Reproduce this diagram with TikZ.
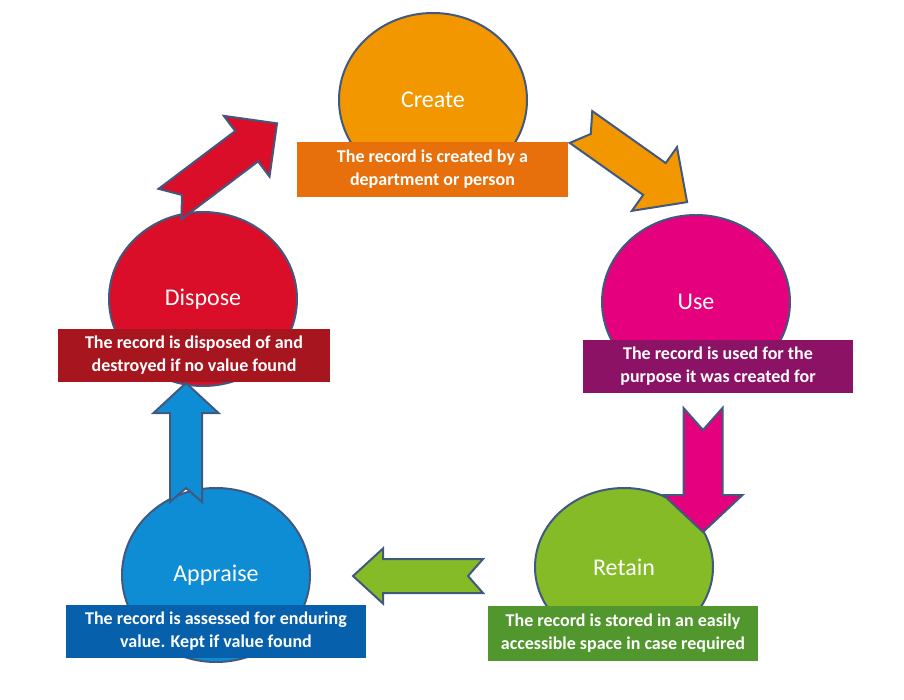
\documentclass[tikz,border=0pt]{standalone}
\usepackage{fontspec}
\setmainfont{Carlito}
\usetikzlibrary{shapes.geometric}
\definecolor{outl}{HTML}{41587F}
\definecolor{createC}{HTML}{F39700}
\definecolor{createB}{HTML}{E8700C}
\definecolor{useC}{HTML}{E5007D}
\definecolor{useB}{HTML}{8C1266}
\definecolor{retainC}{HTML}{84BB26}
\definecolor{retainB}{HTML}{52962E}
\definecolor{apprC}{HTML}{0E8DD5}
\definecolor{apprB}{HTML}{0760AB}
\definecolor{dispC}{HTML}{DB0E29}
\definecolor{dispB}{HTML}{A7161F}
\tikzset{
  stage/.style={ellipse, draw=outl, line width=2pt, inner sep=0pt,
    minimum width=188pt, minimum height=174pt, text=white,
    font=\fontsize{24}{28}\selectfont},
  infobox/.style={rectangle, inner sep=0pt, text=white, align=center,
    font=\fontsize{18}{23}\selectfont\bfseries},
  arrowline/.style={draw=outl, line width=2pt, line join=miter}
}
% #1 colour, #2 tail point, #3 angle, #4 length, #5 half shaft, #6 half head, #7 head length, #8 notch
\newcommand\blockarrow[8]{%
  \begin{scope}[shift={#2},rotate=#3]
    \filldraw[arrowline, fill=#1] (0,#5) -- ({#4-#7},#5) -- ({#4-#7},#6) -- (#4,0)
      -- ({#4-#7},-#6) -- ({#4-#7},-#5) -- (0,-#5) -- (#8,0) -- cycle;
  \end{scope}}
\begin{document}
\begin{tikzpicture}[x=1pt,y=-1pt]
\useasboundingbox[fill=white] (0,0) rectangle (904,700);
% stages
\node[stage, fill=createC] (create) at (433,100) {Create};
\node[stage, fill=useC] (use) at (696,302) {Use};
\node[stage, fill=retainC, minimum width=178pt, minimum height=158pt] (retain) at (624,567) {Retain};
\node[stage, fill=apprC] (appraise) at (216,575) {Appraise};
\node[stage, fill=dispC] (dispose) at (203,299) {Dispose};
% boxes
\node[infobox, fill=createB, minimum width=271pt, minimum height=55pt] (createbox) at (432.5,169.5)
  {The record is created by a\\department or person};
\node[infobox, fill=useB, minimum width=270pt, minimum height=53pt] (usebox) at (718,366.5)
  {The record is used for the\\purpose it was created for};
\node[infobox, fill=retainB, minimum width=270pt, minimum height=55pt] (retainbox) at (623,633.5)
  {The record is stored in an easily\\accessible space in case required};
\node[infobox, fill=apprB, minimum width=300pt, minimum height=53pt] (appraisebox) at (216,631.5)
  {The record is assessed for enduring\\value. Kept if value found};
\node[infobox, fill=dispB, minimum width=272pt, minimum height=53pt] (disposebox) at (194,355.5)
  {The record is disposed of and\\destroyed if no value found};
% arrows
\blockarrow{createC}{(581,127)}{-35.3}{130}{19.5}{39}{40}{12}
\blockarrow{useC}{(703,408)}{-90}{124}{19.5}{39.5}{37}{22}
\blockarrow{retainC}{(483,576)}{180}{130}{17}{27.5}{30}{15}
\blockarrow{apprC}{(186,502)}{90}{119}{16}{32.5}{30}{14}
\blockarrow{dispC}{(170,204)}{37}{134}{19}{38}{38}{15}
\end{tikzpicture}
\end{document}
